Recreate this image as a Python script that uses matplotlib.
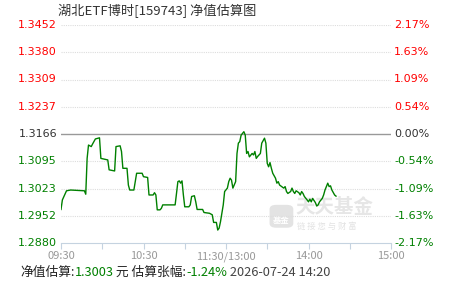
import matplotlib.pyplot as plt
from matplotlib.patches import FancyBboxPatch

plt.rcParams['font.family'] = ['Noto Sans CJK SC', 'DejaVu Sans']

# estimated NAV through the trading day
times = ["09:30", "09:31", "09:34", "09:37", "09:47", "09:48", "09:49", "09:50", "09:52", "09:53",
         "09:55", "09:58", "09:59", "10:04", "10:05", "10:09", "10:10", "10:13", "10:14", "10:15",
         "10:18", "10:19", "10:20", "10:23", "10:25", "10:29", "10:30", "10:33", "10:34", "10:37",
         "10:38", "10:39", "10:40", "10:42", "10:43", "10:44", "10:53", "10:54", "10:55", "10:56",
         "10:57", "10:58", "10:59", "11:00", "11:03", "11:04", "11:05", "11:07", "11:08", "11:09",
         "11:13", "11:14", "11:18", "11:20", "11:21", "11:23", "11:24", "11:25", "11:26", "11:28",
         "11:29", "13:01", "13:02", "13:03", "13:04", "13:05", "13:07", "13:08", "13:09", "13:10",
         "13:11", "13:13", "13:14", "13:15", "13:16", "13:17", "13:19", "13:20", "13:21", "13:22",
         "13:23", "13:25", "13:26", "13:28", "13:29", "13:30", "13:31", "13:32", "13:33", "13:34",
         "13:36", "13:37", "13:38", "13:39", "13:42", "13:43", "13:44", "13:45", "13:47", "13:48",
         "13:49", "13:50", "13:51", "13:53", "13:54", "13:55", "13:56", "13:57", "13:59", "14:00",
         "14:01", "14:02", "14:03", "14:05", "14:06", "14:07", "14:08", "14:10", "14:11", "14:12",
         "14:13", "14:14", "14:15", "14:16", "14:17", "14:19", "14:20"]
nav = [1.2968, 1.2993, 1.3017, 1.3019, 1.3017, 1.3008, 1.3102, 1.3137, 1.3133, 1.3140,
       1.3153, 1.3156, 1.3102, 1.3098, 1.3072, 1.3069, 1.3133, 1.3135, 1.3120, 1.3076,
       1.3076, 1.3032, 1.3019, 1.3019, 1.3063, 1.3063, 1.3054, 1.3052, 1.3006, 1.3006,
       1.3012, 1.3006, 1.2967, 1.2967, 1.2971, 1.2980, 1.2980, 1.3010, 1.3041, 1.3043,
       1.3037, 1.3043, 1.3006, 1.2975, 1.2975, 1.2980, 1.3002, 1.3004, 1.2988, 1.2968,
       1.2968, 1.2960, 1.2958, 1.2954, 1.2934, 1.2934, 1.2914, 1.2919, 1.2936, 1.2980,
       1.3015, 1.3024, 1.3041, 1.3050, 1.3045, 1.3024, 1.3041, 1.3115, 1.3142, 1.3146,
       1.3163, 1.3172, 1.3163, 1.3115, 1.3120, 1.3106, 1.3115, 1.3111, 1.3120, 1.3102,
       1.3107, 1.3115, 1.3142, 1.3155, 1.3142, 1.3089, 1.3080, 1.3091, 1.3076, 1.3063,
       1.3050, 1.3037, 1.3041, 1.3032, 1.3024, 1.3028, 1.3015, 1.3010, 1.3015, 1.3024,
       1.3015, 1.3010, 1.3017, 1.3012, 1.3006, 1.3015, 1.3010, 1.3002, 1.2993, 1.2988,
       1.2995, 1.2988, 1.2997, 1.2986, 1.2977, 1.2980, 1.2988, 1.2997, 1.3006, 1.3019,
       1.3028, 1.3037, 1.3028, 1.3030, 1.3019, 1.3006, 1.3003]

prev_nav = 1.3166
y_ticks = [1.2880, 1.2952, 1.3023, 1.3095, 1.3166, 1.3237, 1.3309, 1.3380, 1.3452]
pct_labels = ["-2.17%", "-1.63%", "-1.09%", "-0.54%", "0.00%", "0.54%", "1.09%", "1.63%", "2.17%"]
x_labels = ["09:30", "", "10:30", "", "11:30/13:00", "", "14:00", "", "15:00"]

title = "湖北ETF博时[159743] 净值估算图"
est_value = "1.3003"
est_pct = "-1.24%"
stamp = "2026-07-24 14:20"

GREEN = "#008000"
RED = "#ff0000"


def trade_minute(t):
    h, m = map(int, t.split(":"))
    mins = h * 60 + m
    if mins <= 11 * 60 + 30:
        return mins - (9 * 60 + 30)
    return 120 + mins - 13 * 60


x = [trade_minute(t) for t in times]

fig = plt.figure(figsize=(4.51, 2.81), dpi=100)
ax = fig.add_axes([61 / 451, 1 - 243 / 281, 330 / 451, 218 / 281])

ax.set_xlim(0, 240)
ax.set_ylim(y_ticks[0], y_ticks[-1])

for v in y_ticks[1:]:
    if v == prev_nav:
        ax.axhline(v, color="#999999", lw=1.0, zorder=1)
    else:
        ax.axhline(v, color="#dddddd", lw=0.8, ls=(0, (1, 1)), zorder=1)

# watermark
wm = FancyBboxPatch((0.637, 0.075), 0.062, 0.095, boxstyle="round,pad=0.005,rounding_size=0.02",
                    transform=ax.transAxes, fc="#e3e3e3", ec="none", zorder=0)
ax.add_patch(wm)
ax.text(0.668, 0.105, "基金", transform=ax.transAxes, fontsize=6, color="white",
        ha="center", va="center", zorder=0, fontweight="bold")
ax.text(0.71, 0.165, "天天基金", transform=ax.transAxes, fontsize=14, color="#e6e6e6",
        ha="left", va="center", zorder=0, fontweight="bold")
ax.text(0.715, 0.075, "链 接 您 与 财 富", transform=ax.transAxes, fontsize=6, color="#e3e3e3",
        ha="left", va="center", zorder=0)

ax.plot(x, nav, color=GREEN, lw=1.0, zorder=3)

for s in ["top", "right", "left"]:
    ax.spines[s].set_visible(False)
ax.spines["bottom"].set_color("#c5d3e0")

ax.set_xticks(range(0, 241, 30))
ax.set_xticklabels(x_labels)
ax.tick_params(axis="x", colors="#c5d3e0", length=4, labelcolor="#999999", labelsize=8, pad=2)
ax.set_yticks([])

for v, p in zip(y_ticks, pct_labels):
    if v > prev_nav + 1e-9:
        c = RED
    elif v < prev_nav - 1e-9:
        c = GREEN
    else:
        c = "#333333"
    ax.text(-4 / 330, v, f"{v:.4f}", transform=ax.get_yaxis_transform(), ha="right", va="center",
            fontsize=8, color=c, family="DejaVu Sans")
    ax.text(1.01, v, p, transform=ax.get_yaxis_transform(), ha="left", va="center",
            fontsize=8, color=c, family="DejaVu Sans")

fig.text(58 / 451, 1 - 11 / 281, title, fontsize=9.5, color="#333333", ha="left", va="center")

# bottom status line
parts = [("净值估算:", "#222222"), (est_value, GREEN), (" 元 估算张幅:", "#222222"),
         (est_pct, GREEN), (" " + stamp, "#444444")]
renderer = fig.canvas.get_renderer()
xpos = 20 / 451
for txt, col in parts:
    t = fig.text(xpos, 1 - 272 / 281, txt, fontsize=9.2, color=col, ha="left", va="center")
    bb = t.get_window_extent(renderer=renderer)
    xpos += bb.width / fig.bbox.width

fig.savefig("out.png", dpi=100)
